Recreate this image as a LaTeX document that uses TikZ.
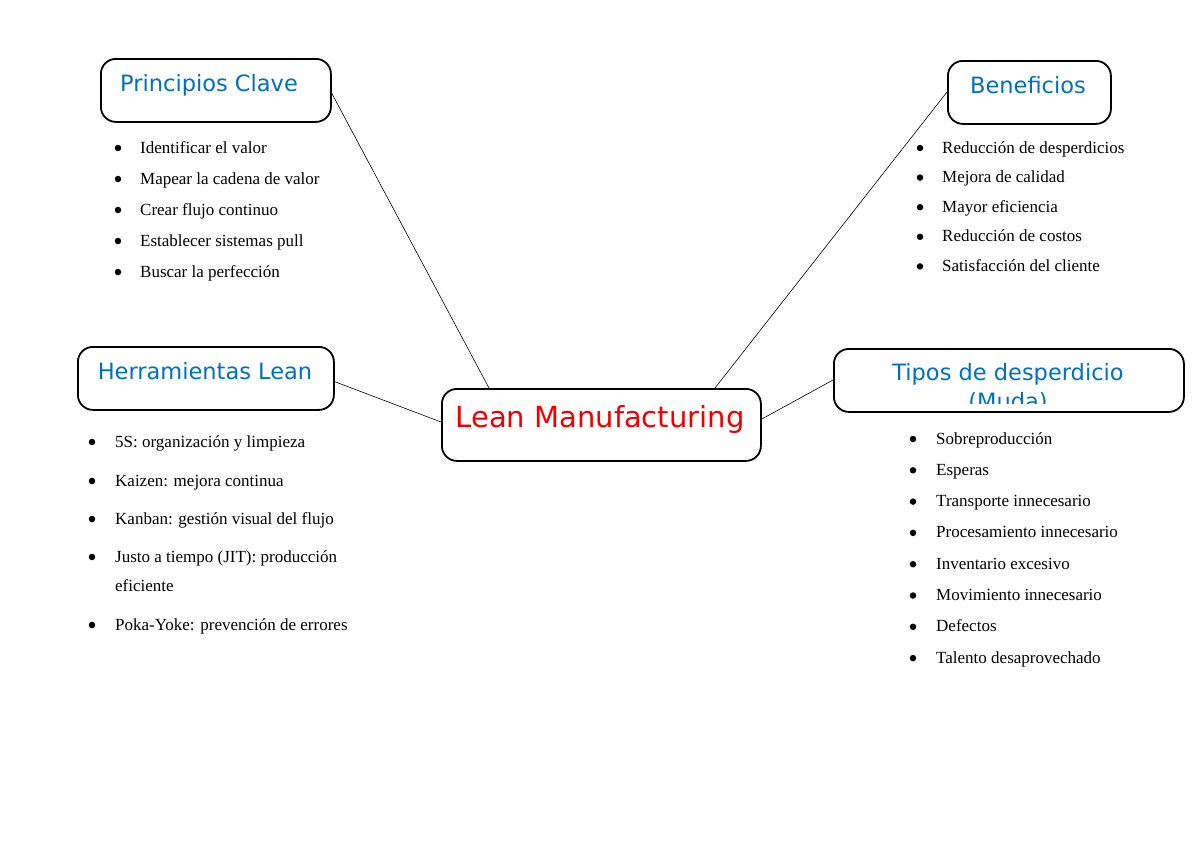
\documentclass[tikz,border=0pt]{standalone}
\usepackage{fontspec}
\setmainfont{Liberation Serif}
\newfontfamily\hd{DejaVu Sans}
\definecolor{hblue}{RGB}{0,112,192}
\definecolor{tred}{RGB}{240,0,0}
\begin{document}
\begin{tikzpicture}[x=1pt,y=-1pt,
  box/.style={draw,line width=1.8pt,rounded corners=15pt,minimum height=0pt,inner sep=0pt,anchor=north west},
  head/.style={text=hblue,font=\hd\fontsize{22.5}{26}\selectfont,anchor=base},
  it/.style={anchor=base west,font=\fontsize{17}{20}\selectfont,inner sep=0pt},
  bul/.style={circle,fill,inner sep=0pt,minimum size=6.5pt},
  con/.style={line width=0.6pt}]
\useasboundingbox (0,0) rectangle (1200,849);
\fill[white] (0,0) rectangle (1200,849);
% boxes
\node[box,minimum width=230pt,minimum height=63pt] (pc) at (100,58) {};
\node[box,minimum width=163pt,minimum height=63pt] (bf) at (947,60) {};
\node[box,minimum width=256pt,minimum height=63pt] (hl) at (77,346) {};
\node[box,minimum width=319pt,minimum height=72pt] (lm) at (441,388) {};
\node[box,minimum width=350pt,minimum height=63pt] (td) at (833,348) {};
\node[head] (pct) at (209,91) {Principios Clave};
\node[head] (bft) at (1028,93) {Beneficios};
\node[head] (hlt) at (205,379) {Herramientas Lean};
\node[anchor=base,text=tred,font=\hd\fontsize{29}{32}\selectfont] (lmt) at (600,427) {Lean Manufacturing};
\begin{scope}
\clip (834,349) rectangle (1182,403);
\node[head] (tdt) at (1008,380) {Tipos de desperdicio};
\node[head] (tdm) at (1008,409) {(Muda)};
\end{scope}
% connectors
\coordinate (c1) at (489,388); \coordinate (c2) at (715,388);
\coordinate (c3) at (441,422); \coordinate (c4) at (760,420);
\coordinate (p1) at (330,90); \coordinate (p2) at (947,92);
\coordinate (p3) at (333,381); \coordinate (p4) at (833,380);
\draw[con] (p1) -- (c1);
\draw[con] (p2) -- (c2);
\draw[con] (p3) -- (c3);
\draw[con] (p4) -- (c4);
% lists
\foreach \t [count=\i] in {Identificar el valor,Mapear la cadena de valor,Crear flujo continuo,Establecer sistemas pull,Buscar la perfección}{
  \pgfmathsetmacro\yy{153+31*(\i-1)}
  \node[bul] (pb\i) at (118,\yy-5) {}; \node[it] (pi\i) at (140,\yy) {\t};}
\foreach \t [count=\i] in {Reducción de desperdicios,Mejora de calidad,Mayor eficiencia,Reducción de costos,Satisfacción del cliente}{
  \pgfmathsetmacro\yy{153+29.6*(\i-1)}
  \node[bul] (bb\i) at (920,\yy-5) {}; \node[it] (bi\i) at (942,\yy) {\t};}
\foreach \t/\yy [count=\i] in {5S: organización y limpieza/447,Kaizen: mejora continua/486,Kanban: gestión visual del flujo/524,Justo a tiempo (JIT): producción/562,Poka-Yoke: prevención de errores/630}{
  \node[bul] (hb\i) at (92,\yy-5) {}; \node[it] (hi\i) at (115,\yy) {\t};}
\node[it] (hi4b) at (115,591) {eficiente};
\foreach \t [count=\i] in {Sobreproducción,Esperas,Transporte innecesario,Procesamiento innecesario,Inventario excesivo,Movimiento innecesario,Defectos,Talento desaprovechado}{
  \pgfmathsetmacro\yy{444+31.3*(\i-1)}
  \node[bul] (tb\i) at (913,\yy-5) {}; \node[it] (ti\i) at (936,\yy) {\t};}
\end{tikzpicture}
\end{document}
